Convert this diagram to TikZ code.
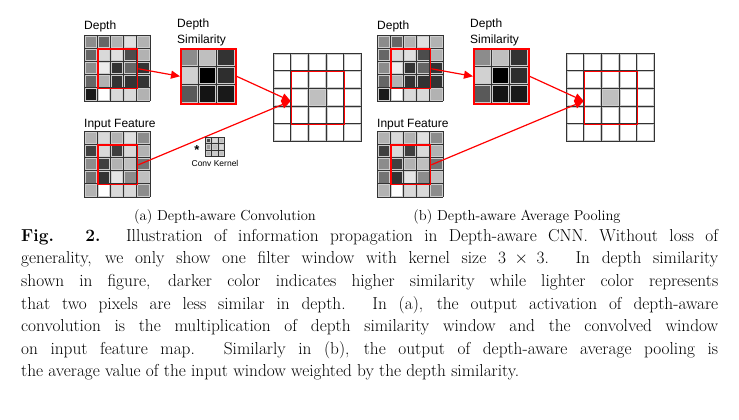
\documentclass[tikz,border=0pt]{standalone}
\usepackage{fontspec}
\newfontfamily\labfont{Liberation Sans}
\usetikzlibrary{arrows.meta}
\newcommand\ggrid[5]{% x y cell n list
  \foreach \v [count=\i from 0] in {#5}{
    \pgfmathtruncatemacro\cc{mod(\i,#4)}
    \pgfmathtruncatemacro\rr{int(\i/#4)}
    \fill[fill=white!\v!black] ({#1+\cc*#3},{#2+\rr*#3}) rectangle ++(#3,#3);
    \draw[gray!40, line width=0.5pt] ({#1+\cc*#3+0.9},{#2+\rr*#3+0.9}) rectangle ++({#3-1.8},{#3-1.8});
  }
  \foreach \k in {0,...,#4}{
    \draw[black!80, line width=0.8pt] ({#1+\k*#3},#2) -- ({#1+\k*#3},{#2+#4*#3});
    \draw[black!80, line width=0.8pt] (#1,{#2+\k*#3}) -- ({#1+#4*#3},{#2+\k*#3});
  }
}
\tikzset{redwin/.style={draw=red, line width=1.6pt},
  redarrow/.style={red, line width=1.2pt, -{Triangle[length=9pt,width=8pt]}},
  lab/.style={font=\labfont\fontsize{12}{14}\selectfont, inner sep=0pt, anchor=base west}}
\begin{document}
\begin{tikzpicture}[x=1pt,y=-1pt]
\useasboundingbox (0,0) rectangle (739,420);
\fill[white] (0,0) rectangle (739,420);
\foreach \ox/\p in {0/a,293/b}{
  \begin{scope}[xshift=\ox pt]
  \node[lab] (dl\p) at (84,30) {Depth};
  \node[lab] (sl\p) at (177,28) {Depth};
  \node[lab] (sl2\p) at (177,44) {Similarity};
  \node[lab] (il\p) at (84,127) {Input Feature};
  \ggrid{84}{35}{13.2}{5}{55,40,70,88,70, 40,85,88,30,70, 55,92,20,40,20, 40,70,20,20,20, 10,100,85,85,70}
  \ggrid{180}{48}{18.3}{3}{55,75,20, 82,0,18, 35,8,10}
  \ggrid{84}{131}{13.2}{5}{70,85,70,88,55, 25,85,25,85,70, 55,25,70,75,45, 45,20,90,55,75, 70,100,85,85,55}
  \ggrid{273}{53}{17.7}{5}{100,100,100,100,100, 100,100,100,100,100, 100,100,75,100,100, 100,100,100,100,100, 100,100,100,100,100}
  \node[redwin, minimum width=39.6pt, minimum height=39.6pt, inner sep=0pt, anchor=north west] (dw\p) at (97.2,48.2) {};
  \node[redwin, minimum width=55pt, minimum height=55pt, inner sep=0pt, anchor=north west] (sw\p) at (180,48) {};
  \node[redwin, minimum width=39.6pt, minimum height=39.6pt, inner sep=0pt, anchor=north west] (iw\p) at (97.2,144.2) {};
  \node[redwin, minimum width=53.1pt, minimum height=53.1pt, inner sep=0pt, anchor=north west] (ow\p) at (290.7,70.7) {};
  \draw[redarrow] (dw\p.east) -- (sw\p.west);
  \draw[redarrow] (sw\p.east) -- ([yshift=-3pt]ow\p.west);
  \draw[redarrow] (iw\p.east) -- ([yshift=-3pt]ow\p.west);
  \end{scope}
}
\ggrid{205}{137}{6.5}{3}{30,85,75, 60,75,85, 70,80,75}
\node[font=\labfont\bfseries\fontsize{13}{13}\selectfont] (star) at (197,150) {*};
\node[font=\labfont\fontsize{8.5}{10}\selectfont] (ck) at (215,163) {Conv Kernel};
\node[font=\fontsize{14.5}{16}\selectfont] (ca) at (225,217) {(a) Depth-aware Convolution};
\node[font=\fontsize{14.5}{16}\selectfont] (cb) at (517,217) {(b) Depth-aware Average Pooling};
\node[anchor=north west, inner sep=0pt, text width=697pt, align=justify, font=\fontsize{17.3}{22.6}\selectfont] (txt) at (21,229) {\textbf{Fig. 2.} Illustration of information propagation in Depth-aware CNN. Without loss of\linebreak generality, we only show one filter window with kernel size $3\times3$. In depth similarity\linebreak shown in figure, darker color indicates higher similarity while lighter color represents\linebreak that two pixels are less similar in depth. In (a), the output activation of depth-aware\linebreak convolution is the multiplication of depth similarity window and the convolved window\linebreak on input feature map. Similarly in (b), the output of depth-aware average pooling is\linebreak the average value of the input window weighted by the depth similarity.};
\end{tikzpicture}
\end{document}
